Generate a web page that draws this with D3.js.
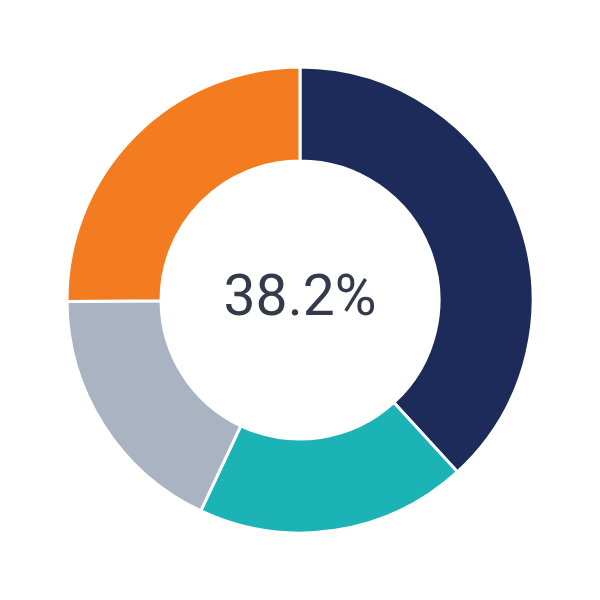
<!DOCTYPE html>
<html>
<head>
<meta charset="utf-8">
<script src="https://cdn.jsdelivr.net/npm/d3@7"></script>
<style>
    body { margin: 0; background: #fff; }
</style>
</head>
<body>
<svg id="chart" width="600" height="600"></svg>
<script>
const categories = ["A", "B", "C", "D"]
const values = [38.2, 18.8, 17.9, 25.1]
const colors = ["#1c2b5a", "#1bb3b5", "#a9b3c1", "#f47c20"]
const centerLabel = "38.2%"

const svg = d3.select("#chart")
const g = svg.append("g").attr("transform", "translate(300,300)")

const pie = d3.pie().sort(null).value((d) => d.value)
const arc = d3.arc().innerRadius(139).outerRadius(233)

const data = categories.map((c, i) => {
    return { name: c, value: values[i], color: colors[i] }
})

g.selectAll(".slice")
    .data(pie(data))
    .enter()
    .append("path")
    .attr("class", "slice")
    .attr("d", arc)
    .attr("fill", (d) => d.data.color)
    .style("stroke", "#fff")
    .style("stroke-width", "3px")

// baseline sits a bit above the ring centre, like the original
g.append("text")
    .attr("y", 15)
    .style("text-anchor", "middle")
    .style("font-family", "Roboto, sans-serif")
    .style("font-size", "57px")
    .style("fill", "#343a4a")
    .text(centerLabel)
</script>
</body>
</html>
